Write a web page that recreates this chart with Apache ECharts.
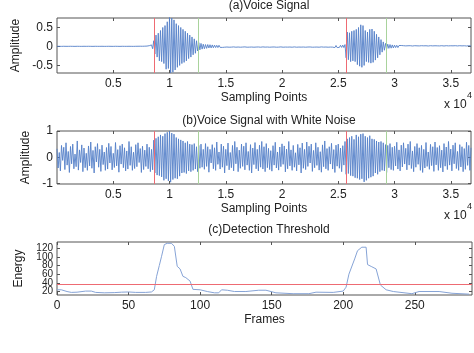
<!DOCTYPE html>
<html>
<head>
<meta charset="utf-8">
<script src="https://cdn.jsdelivr.net/npm/echarts@6/dist/echarts.min.js"></script>
<style>
  html, body { margin: 0; padding: 0; background: #fff; }
  #chart { width: 474px; height: 353px; }
</style>
</head>
<body>
<div id="chart"></div>
<script>
var sampleStep = 100;

// (a) clean voice signal
var voiceA = [
  0.004,-0.003,0.003,-0.004,0.002,-0.003,0.004,-0.002,0.003,-0.004,
  0.003,-0.003,0.004,-0.002,0.003,-0.004,0.002,-0.003,0.004,-0.003,
  0.003,-0.004,0.002,-0.003,0.004,-0.003,0.003,-0.002,0.004,-0.003,
  0.003,-0.004,0.002,-0.003,0.004,-0.003,0.003,-0.004,0.003,-0.002,
  0.004,-0.003,0.002,-0.004,0.003,-0.003,0.004,-0.002,0.003,-0.004,
  0.002,-0.003,0.004,-0.003,0.003,-0.004,0.002,-0.003,0.004,-0.002,
  0.003,-0.004,0.003,-0.003,0.004,-0.002,0.003,-0.004,0.002,-0.003,
  0.004,-0.003,0.005,-0.004,0.006,-0.005,0.005,-0.006,0.007,-0.006,
  0.01,-0.015,0.02,-0.03,0.04,-0.06,
  0.15,-0.2,
  0.3,-0.28,0.35,-0.38,0.42,-0.4,0.5,-0.45,0.55,-0.6,0.65,-0.58,
  0.78,-0.7,0.75,-0.68,0.7,-0.62,0.6,-0.55,0.55,-0.5,
  0.5,-0.45,0.45,-0.42,0.4,-0.38,0.35,-0.32,0.3,-0.28,
  0.25,-0.22,0.2,-0.18,0.15,-0.12,0.1,-0.09,0.08,-0.07,
  0.06,-0.06,0.05,-0.05,0.05,-0.04,0.045,-0.04,0.04,-0.035,
  0.035,-0.03,0.03,-0.03,0.03,-0.025,0.025,-0.025,0.02,-0.02,
  0.02,-0.015,0.018,-0.02,0.015,-0.018,0.02,-0.012,0.016,-0.02,
  0.018,-0.015,0.012,-0.02,0.02,-0.016,0.015,-0.012,0.018,-0.02,
  0.014,-0.018,0.02,-0.015,0.016,-0.02,0.012,-0.016,0.02,-0.014,
  0.018,-0.02,0.015,-0.012,0.02,-0.018,0.016,-0.015,0.012,-0.02,
  0.02,-0.016,0.018,-0.014,0.015,-0.02,0.02,-0.018,0.016,-0.012,
  0.015,-0.02,0.018,-0.016,0.012,-0.018,0.02,-0.015,0.016,-0.02,
  0.018,-0.012,0.015,-0.02,0.02,-0.016,0.014,-0.018,0.02,-0.015,
  0.012,-0.02,0.018,-0.015,0.02,-0.014,0.016,-0.02,0.015,-0.018,
  0.02,-0.016,0.018,-0.02,0.015,-0.012,0.02,-0.018,0.016,-0.015,
  0.018,-0.02,0.014,-0.016,0.02,-0.018,0.025,-0.03,0.025,-0.03,
  0.02,-0.025,0.03,-0.025,0.035,-0.03,
  0.05,-0.3,
  0.38,-0.35,0.36,-0.4,0.4,-0.38,0.42,-0.4,0.45,-0.48,0.5,-0.52,
  0.57,-0.55,0.55,-0.5,0.42,-0.4,0.38,-0.42,0.45,-0.44,
  0.46,-0.42,0.4,-0.36,0.32,-0.3,0.25,-0.22,0.18,-0.15,
  0.12,-0.1,0.08,-0.07,0.06,-0.05,0.05,-0.045,0.04,-0.04,
  0.035,-0.03,0.03,-0.03,0.025,-0.025,0.025,-0.02,
  0.02,-0.018,0.015,-0.02,0.018,-0.014,0.02,-0.016,0.012,-0.018,
  0.02,-0.015,0.016,-0.02,0.014,-0.018,0.02,-0.012,0.016,-0.02,
  0.018,-0.015,0.012,-0.02,0.02,-0.016,0.015,-0.014,0.018,-0.02,
  0.016,-0.02,0.014,-0.018,0.02,-0.015,0.012,-0.016,0.02,-0.018,
  0.015,-0.02,0.018,-0.012,0.016,-0.02,0.02,-0.015,0.014,-0.018,
  0.02,-0.016,0.015,-0.02,0.018,-0.014,0.012,-0.018,0.02,-0.015,
  0.012
];

// (b) voice signal with white noise
var voiceB = [
  0.32,-0.41,0.18,-0.52,0.45,-0.12,0.38,-0.47,0.55,-0.3,
  0.22,-0.58,0.41,-0.25,0.5,-0.44,0.12,-0.36,0.62,-0.49,
  0.28,-0.2,0.47,-0.55,0.35,-0.4,0.15,-0.5,0.43,-0.33,
  0.58,-0.42,0.26,-0.6,0.4,-0.18,0.52,-0.38,0.3,-0.54,
  0.46,-0.28,0.2,-0.5,0.37,-0.45,0.53,-0.22,0.41,-0.48,
  0.15,-0.39,0.56,-0.33,0.29,-0.57,0.44,-0.26,0.5,-0.4,
  0.36,-0.52,0.24,-0.45,0.6,-0.31,0.4,-0.5,0.19,-0.43,
  0.48,-0.36,0.55,-0.2,0.33,-0.58,0.42,-0.47,0.27,-0.35,
  0.5,-0.44,0.38,-0.55,0.3,-0.48,0.65,-0.6,0.72,-0.68,
  0.78,-0.7,0.85,-0.75,0.8,-0.88,0.9,-0.82,0.95,-0.9,
  1.0,-0.95,0.92,-0.85,0.88,-0.8,0.75,-0.82,0.7,-0.72,
  0.66,-0.6,0.62,-0.58,0.55,-0.62,0.6,-0.52,0.5,-0.55,
  0.48,-0.5,0.52,-0.45,0.4,-0.55,0.45,-0.42,0.5,-0.38,
  0.3,-0.46,0.52,-0.35,0.4,-0.57,0.3,-0.22,0.48,-0.44,
  0.36,-0.5,0.58,-0.27,0.2,-0.45,0.5,-0.38,0.42,-0.6,
  0.3,-0.32,0.54,-0.48,0.18,-0.4,0.45,-0.52,0.6,-0.25,
  0.38,-0.55,0.27,-0.42,0.5,-0.35,0.42,-0.48,0.55,-0.3,
  0.22,-0.5,0.48,-0.6,0.35,-0.28,0.56,-0.44,0.3,-0.52,
  0.46,-0.38,0.6,-0.45,0.4,-0.55,0.52,-0.4,0.34,-0.47,
  0.25,-0.53,0.44,-0.3,0.57,-0.41,0.2,-0.49,0.39,-0.36,
  0.51,-0.27,0.43,-0.56,0.31,-0.44,0.6,-0.33,0.28,-0.5,
  0.45,-0.38,0.17,-0.52,0.49,-0.29,0.36,-0.6,0.54,-0.42,
  0.3,-0.47,0.58,-0.35,0.42,-0.22,0.5,-0.54,0.26,-0.4,
  0.55,-0.31,0.38,-0.49,0.21,-0.57,0.47,-0.36,0.62,-0.44,
  0.33,-0.5,0.4,-0.26,0.53,-0.45,0.29,-0.58,0.46,-0.34,
  0.5,-0.42,0.35,-0.55,0.44,-0.3,0.6,-0.65,0.7,-0.62,
  0.75,-0.7,0.8,-0.72,0.68,-0.78,0.85,-0.8,0.78,-0.85,
  0.88,-0.82,0.9,-0.94,0.8,-0.88,0.75,-0.8,0.82,-0.76,
  0.7,-0.72,0.68,-0.6,0.62,-0.65,0.58,-0.55,0.6,-0.5,
  0.55,-0.52,0.48,-0.58,0.45,-0.4,0.52,-0.47,0.38,-0.5,
  0.42,-0.33,0.57,-0.45,0.28,-0.52,0.46,-0.37,0.55,-0.26,
  0.34,-0.48,0.5,-0.3,0.6,-0.43,0.24,-0.55,0.41,-0.38,
  0.52,-0.27,0.36,-0.5,0.45,-0.58,0.3,-0.41,0.56,-0.35,
  0.2,-0.46,0.49,-0.32,0.4,-0.54,0.58,-0.29,0.37,-0.5,
  0.44,-0.4,0.27,-0.56,0.52,-0.34,0.39,-0.47,0.6,-0.3,
  0.31,-0.52,0.46,-0.25,0.55,-0.43,0.22,-0.5,0.48,-0.37,
  0.4,-0.55,0.33,-0.46,0.57,-0.31,0.45,-0.5,0.36
];

// (c) short-time energy per frame
var energyFrames = [0,3,7,10,14,20,24,27,33,40,45,50,55,62,66,68,69.6,71.5,73,75,77,80,82,84,86,87,88,90,93,95,100,105,110,113,115,119,124,132,141,146,153,165,176,181,193,200,202,204,208,210,213,216,217,220,223,226,230,235,248,253,267,276,288];
var energyValues = [24,24,20,18,18.5,21,21,18,17,17.5,18.5,19,18,18,19,24,55,80,100,128,131,131,124,78,72,69,55,52,44,25,24,20,17,17,24,23,20,20,23,23,17,15,15,18.5,18,21,30,60,95,114,122,122,82,77,72,35,24,20,15,20,20,16,14];

var speechStart = [8610, 25700];
var speechEnd = [12580, 29300];
var threshold = 37;

var sampleTicks = [5000, 10000, 15000, 20000, 25000, 30000, 35000];
var ampTicksA = [-0.5, 0, 0.5];
var ampTicksB = [-1, 0, 1];
var frameTicks = [0, 50, 100, 150, 200, 250];
var energyTicks = [20, 40, 60, 80, 100, 120];

var font = 'Liberation Sans';
var ink = '#222';
var frameCol = '#555';
var blue = '#5580c8';

var dataA = voiceA.map(function (v, i) { return [i * sampleStep, v]; });
var dataB = voiceB.map(function (v, i) { return [i * sampleStep, v]; });
var dataC = energyFrames.map(function (f, i) { return [f, energyValues[i]]; });

function vLines() {
  var d = [];
  speechStart.forEach(function (s) { d.push({ xAxis: s, lineStyle: { color: '#ee6b73' } }); });
  speechEnd.forEach(function (s) { d.push({ xAxis: s, lineStyle: { color: '#a9d39c' } }); });
  return { silent: true, symbol: 'none', label: { show: false }, lineStyle: { type: 'solid', width: 1 }, data: d };
}

function xAxes(g, min, max, ticks, fmt, name, gap) {
  return [{
    type: 'value', gridIndex: g, min: min, max: max, position: 'bottom',
    name: name, nameLocation: 'middle', nameGap: gap,
    nameTextStyle: { fontFamily: font, fontSize: 12, color: ink },
    axisLine: { show: false, onZero: false }, splitLine: { show: false },
    axisTick: { inside: true, length: 3, customValues: ticks, lineStyle: { color: frameCol } },
    axisLabel: { customValues: ticks, formatter: fmt, margin: 5, fontFamily: font, fontSize: 12, color: ink }
  }, {
    type: 'value', gridIndex: g, min: min, max: max, position: 'top',
    axisLine: { show: false, onZero: false }, splitLine: { show: false },
    axisTick: { inside: true, length: 3, customValues: ticks, lineStyle: { color: frameCol } },
    axisLabel: { show: false }
  }];
}

function yAxes(g, min, max, ticks, labels, name, gap, fs) {
  return [{
    type: 'value', gridIndex: g, min: min, max: max, position: 'left',
    name: name, nameLocation: 'middle', nameGap: gap,
    nameTextStyle: { fontFamily: font, fontSize: 12, color: ink },
    axisLine: { show: false, onZero: false }, splitLine: { show: false },
    axisTick: { inside: true, length: 3, customValues: ticks, lineStyle: { color: frameCol } },
    axisLabel: { customValues: labels, margin: 4, fontFamily: font, fontSize: fs, color: ink }
  }, {
    type: 'value', gridIndex: g, min: min, max: max, position: 'right',
    axisLine: { show: false, onZero: false }, splitLine: { show: false },
    axisTick: { inside: true, length: 3, customValues: ticks, lineStyle: { color: frameCol } },
    axisLabel: { show: false }
  }];
}

// second label-only axis so the tightly packed energy labels are all kept
function labelAxis(g, min, max, labels, fs) {
  return {
    type: 'value', gridIndex: g, min: min, max: max, position: 'left', offset: 0,
    axisLine: { show: false, onZero: false }, splitLine: { show: false },
    axisTick: { show: false },
    axisLabel: { customValues: labels, margin: 4, fontFamily: font, fontSize: fs, color: ink }
  };
}

var sampleFmt = function (v) { return String(v / 10000); };
var energyLabelsA = energyTicks.filter(function (v, i) { return i % 2 === 0; });
var energyLabelsB = energyTicks.filter(function (v, i) { return i % 2 === 1; });

var myChart = echarts.init(document.getElementById('chart'), null, { renderer: 'canvas' });

var option = {
  animation: false,
  backgroundColor: '#fff',
  title: [
    { text: '(a)Voice Signal', left: 264, top: -5, textAlign: 'center', textStyle: { fontFamily: font, fontSize: 12, fontWeight: 'normal', color: ink } },
    { text: '(b)Voice Signal with White Noise', left: 264, top: 110, textAlign: 'center', textStyle: { fontFamily: font, fontSize: 12, fontWeight: 'normal', color: ink } },
    { text: '(c)Detection Threshold', left: 264, top: 219, textAlign: 'center', textStyle: { fontFamily: font, fontSize: 12, fontWeight: 'normal', color: ink } }
  ],
  grid: [
    { left: 57, top: 18, width: 414, height: 55, show: true, borderColor: frameCol, borderWidth: 1 },
    { left: 57, top: 131, width: 414, height: 53, show: true, borderColor: frameCol, borderWidth: 1 },
    { left: 57, top: 242, width: 415, height: 53, show: true, borderColor: frameCol, borderWidth: 1 }
  ],
  xAxis: [].concat(
    xAxes(0, 0, 36800, sampleTicks, sampleFmt, 'Sampling Points', 19),
    xAxes(1, 0, 36800, sampleTicks, sampleFmt, 'Sampling Points', 19),
    xAxes(2, 0, 290, frameTicks, null, 'Frames', 19)
  ),
  yAxis: [].concat(
    yAxes(0, -0.7, 0.75, ampTicksA, ampTicksA, 'Amplitude', 32, 12),
    yAxes(1, -1.02, 1, ampTicksB, ampTicksB, 'Amplitude', 17, 12),
    yAxes(2, 12, 134, energyTicks, energyLabelsA, 'Energy', 32, 10),
    [labelAxis(2, 12, 134, energyLabelsB, 10)]
  ),
  graphic: [
    { type: 'text', left: 444, top: 99, style: { text: 'x 10', font: '12px ' + font, fill: ink } },
    { type: 'text', left: 467, top: 91, style: { text: '4', font: '9px ' + font, fill: ink } },
    { type: 'text', left: 444, top: 210, style: { text: 'x 10', font: '12px ' + font, fill: ink } },
    { type: 'text', left: 467, top: 202, style: { text: '4', font: '9px ' + font, fill: ink } }
  ],
  series: [
    {
      type: 'line', xAxisIndex: 0, yAxisIndex: 0, data: dataA, showSymbol: false,
      lineStyle: { color: blue, width: 0.9 }, markLine: vLines(), z: 2
    },
    {
      type: 'line', xAxisIndex: 2, yAxisIndex: 2, data: dataB, showSymbol: false,
      lineStyle: { color: blue, width: 0.9 }, markLine: vLines(), z: 2
    },
    {
      type: 'line', xAxisIndex: 4, yAxisIndex: 4, data: dataC, showSymbol: false,
      lineStyle: { color: '#86a3d6', width: 1 },
      markLine: { silent: true, symbol: 'none', label: { show: false }, lineStyle: { type: 'solid', width: 1, color: '#ee6b73' }, data: [{ yAxis: threshold }] }
    }
  ]
};

myChart.setOption(option);
</script>
</body>
</html>
